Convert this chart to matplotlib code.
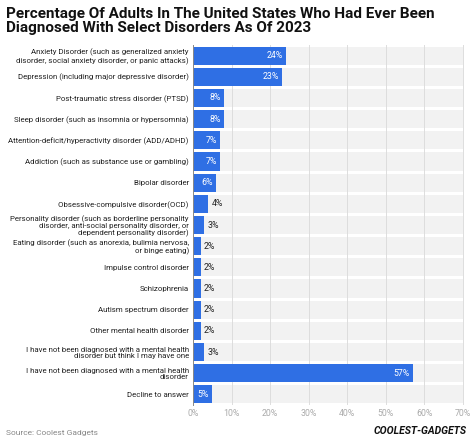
import matplotlib
matplotlib.use("Agg")
import matplotlib.pyplot as plt

plt.rcParams['font.family'] = ['Roboto', 'DejaVu Sans']

categories = [
    "Anxiety Disorder (such as generalized anxiety\ndisorder, social anxiety disorder, or panic attacks)",
    "Depression (including major depressive disorder)",
    "Post-traumatic stress disorder (PTSD)",
    "Sleep disorder (such as insomnia or hypersomnia)",
    "Attention-deficit/hyperactivity disorder (ADD/ADHD)",
    "Addiction (such as substance use or gambling)",
    "Bipolar disorder",
    "Obsessive-compulsive disorder(OCD)",
    "Personality disorder (such as borderline personality\ndisorder, anti-social personality disorder, or\ndependent personality disorder)",
    "Eating disorder (such as anorexia, bulimia nervosa,\nor binge eating)",
    "Impulse control disorder",
    "Schizophrenia",
    "Autism spectrum disorder",
    "Other mental health disorder",
    "I have not been diagnosed with a mental health\ndisorder but think I may have one",
    "I have not been diagnosed with a mental health\ndisorder",
    "Decline to answer",
]
values = [24, 23, 8, 8, 7, 7, 6, 4, 3, 2, 2, 2, 2, 2, 3, 57, 5]
xticks = [0, 10, 20, 30, 40, 50, 60, 70]

fig = plt.figure(figsize=(4.74, 4.46), dpi=100)
ax = fig.add_axes([0.407, 0.092, 0.578, 0.807])
n = len(values)
y = list(range(n))
ax.barh(y, [70] * n, height=0.86, color="#f2f2f2", zorder=0)
ax.barh(y, values, height=0.86, color="#2f6fe4", zorder=2)
for yi, v in zip(y, values):
    if v >= 5:
        ax.text(v - 0.8, yi, f"{v}%", ha="right", va="center", color="white", fontsize=6.3, zorder=3)
    else:
        ax.text(v + 0.8, yi, f"{v}%", ha="left", va="center", color="#222222", fontsize=6.3, zorder=3)
ax.set_ylim(n - 0.5, -0.5)
ax.set_xlim(0, 71)
ax.set_xticks(xticks)
ax.set_xticklabels([f"{t}%" for t in xticks], color="#aaaaaa", fontsize=6.3)
ax.set_yticks(y)
ax.set_yticklabels(categories, fontsize=5.7, color="#222222", linespacing=1.1)
ax.tick_params(length=0, pad=3)
ax.grid(axis="x", color="#dddddd", linewidth=0.7, zorder=1)
ax.set_axisbelow(True)
for s in ["top", "right", "bottom"]:
    ax.spines[s].set_visible(False)
ax.spines["left"].set_color("#888888")
ax.spines["left"].set_linewidth(0.7)

fig.text(0.012, 0.985, "Percentage Of Adults In The United States Who Had Ever Been\nDiagnosed With Select Disorders As Of 2023",
         ha="left", va="top", fontsize=11, fontweight="bold", color="#111111", linespacing=1.05)
fig.text(0.012, 0.022, "Source: Coolest Gadgets", fontsize=6, color="#888888", ha="left", va="bottom")
fig.text(0.985, 0.022, "COOLEST-GADGETS", fontsize=7.5, fontweight="bold", style="italic", color="#111111", ha="right", va="bottom")
fig.savefig("out.png", dpi=100)
